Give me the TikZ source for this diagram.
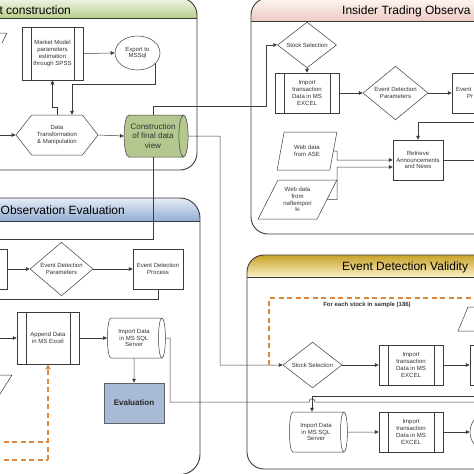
\documentclass[tikz,border=0pt]{standalone}
\usepackage{fontspec}
\setmainfont{Liberation Sans}
\usetikzlibrary{shapes.geometric,shapes.symbols,arrows.meta,calc}
\definecolor{lc}{HTML}{3C3C3C}
\definecolor{tc}{HTML}{333333}
\definecolor{orng}{HTML}{D98A3D}
\definecolor{gfill}{HTML}{B3C78E}
\definecolor{efill}{HTML}{A9BBD4}
\definecolor{pbord}{HTML}{3A3A3A}
\definecolor{hAt}{HTML}{F2F6E8}
\definecolor{hAb}{HTML}{B8CE8C}
\definecolor{hBt}{HTML}{FDF6F4}
\definecolor{hBb}{HTML}{EDCBC2}
\definecolor{hCt}{HTML}{E6ECF5}
\definecolor{hCb}{HTML}{93AED4}
\definecolor{hDt}{HTML}{C8A22A}
\definecolor{hDb}{HTML}{FBF0C4}
\tikzset{
 base/.style={draw=lc, fill=white, text=tc, align=center, inner sep=1pt, font=\fontsize{6}{6.8}\selectfont, line width=0.5pt},
 proc/.style={base, rectangle},
 subp/.style={base, rectangle, path picture={
   \draw[lc, line width=0.5pt] ([xshift=9pt]path picture bounding box.north west) -- ([xshift=9pt]path picture bounding box.south west);
   \draw[lc, line width=0.5pt] ([xshift=-9pt]path picture bounding box.north east) -- ([xshift=-9pt]path picture bounding box.south east);}},
 dec/.style={base, diamond, inner sep=0pt},
 cyl/.style={base, cylinder, shape aspect=0.35, inner xsep=0pt},
 hexa/.style={base, signal, signal to=west and east, signal pointer angle=104},
 arr/.style={draw=lc, line width=0.5pt, -{Triangle[length=4pt,width=3.6pt]}},
 conn/.style={draw=lc, line width=0.5pt},
 dsh/.style={draw=orng, line width=1.1pt, dash pattern=on 5pt off 3.5pt},
 hdr/.style={font=\fontsize{12}{14}\selectfont, text=black, inner sep=0pt},
 border/.style={draw=pbord, line width=0.9pt},
}
\begin{document}
\begin{tikzpicture}[x=1pt,y=-1pt]
\useasboundingbox (0,0) rectangle (474,474);
\clip (0,0) rectangle (474,474);
\fill[white] (0,0) rectangle (474,474);

% ---------- panel 1 ----------
\begin{scope}
\clip[rounded corners=17pt] (-20,-2) -- (197,-2) -- (197,170) -- (-20,170) -- cycle;
\shade[top color=hAt, bottom color=hAb] (-20,-2) rectangle (197,18);
\end{scope}
\draw[border, rounded corners=17pt] (-20,-2) -- (197,-2) -- (197,170) -- (-20,170);
\draw[border] (-20,18) -- (197,18);
\node[hdr, anchor=west] (h1) at (-0.7,10) {t construction};

% ---------- panel 2 ----------
\begin{scope}
\clip[rounded corners=17pt] (251,-2) -- (490,-2) -- (490,234) -- (251,234) -- cycle;
\shade[top color=hBt, bottom color=hBb] (251,-2) rectangle (490,21);
\end{scope}
\draw[border, rounded corners=17pt] (490,-2) -- (251,-2) -- (251,234) -- (490,234);
\draw[border] (251,21) -- (490,21);
\node[hdr, anchor=west] (h2) at (342,11) {Insider Trading Observa};

% ---------- panel 3 ----------
\begin{scope}
\clip[rounded corners=20pt] (-20,198) -- (200,198) -- (200,474.5) -- (-20,474.5) -- cycle;
\shade[top color=hCt, bottom color=hCb] (-20,198) rectangle (200,221);
\end{scope}
\draw[border, rounded corners=20pt] (-20,198) -- (200,198) -- (200,474.5) -- (-20,474.5);
\draw[border] (-20,221) -- (200,221);
\node[hdr, anchor=east] (h3) at (125,210) {Observation Evaluation};

% ---------- panel 4 ----------
\begin{scope}
\clip[rounded corners=17pt] (247,255) -- (490,255) -- (490,469) -- (247,469) -- cycle;
\shade[top color=hDt, bottom color=hDb] (247,255) rectangle (490,277);
\end{scope}
\draw[border, rounded corners=17pt] (490,255) -- (247,255) -- (247,469) -- (490,469);
\draw[border] (247,277) -- (490,277);
\node[hdr, anchor=west] (h4) at (342,267) {Event Detection Validity};

% ---------- panel 1 nodes ----------
\draw[conn] (-10,33) -- (7,33) -- (2,43);
\node[subp, minimum width=61, minimum height=53] (mm) at (52.5,53.5) {Market Model\\parameters\\estimation\\through SPSS};
\node[base, ellipse, minimum width=45, minimum height=34] (exp) at (137.5,53) {Export to\\MSSql};
\node[hexa, minimum width=82, minimum height=40] (dt) at (57,135) {Data\\Transformation\\\& Manipulation};
\node[cyl, fill=gfill, minimum height=64, minimum width=42, font=\fontsize{8}{9.2}\selectfont] (cfd) at (153,136) {Construction\\of final data\\view};
\coordinate (in1) at (-5,135);

% ---------- panel 2 nodes ----------
\node[dec, minimum width=59, minimum height=30] (ss1) at (307,45) {Stock Selection};
\node[subp, minimum width=64, minimum height=40] (it1) at (307,93) {Import\\transaction\\Data in MS\\EXCEL};
\node[dec, minimum width=65, minimum height=40] (edp1) at (395.5,93) {Event Detection\\Parameters};
\node[proc, minimum width=52, minimum height=40, text width=44, align=left, inner sep=0pt] (edpr1) at (478,93) {Event\\\hspace*{11pt}Pr};
\node[proc, minimum width=50, minimum height=40] (ran) at (418,160) {Retrieve\\Announcements\\and News};
\node[base, trapezium, trapezium left angle=72, trapezium right angle=108, trapezium stretches=true, minimum width=60, minimum height=38] (wa) at (307,151) {Web data\\from ASE};
\node[base, trapezium, trapezium left angle=60, trapezium right angle=120, trapezium stretches=true, minimum width=79, minimum height=39] (wn) at (297.5,199.5) {Web data\\from\\naftempori\\ki};
\coordinate (r1) at (480,122);
\coordinate (r2) at (480,160);

% ---------- panel 3 nodes ----------
\node[proc, minimum width=50, minimum height=40] (lb) at (-18,269) {};
\node[dec, minimum width=63, minimum height=40] (edp2) at (61.5,269) {Event Detection\\Parameters};
\node[proc, minimum width=50, minimum height=40] (edpr2) at (158,269) {Event Detection\\Process};
\node[subp, minimum width=62, minimum height=52] (ap) at (48,338) {Append Data\\in MS Excel};
\node[cyl, minimum height=58, minimum width=40] (imp2) at (134,338) {Import Data\\in MS SQL\\Server};
\node[proc, fill=efill, draw=lc!70!efill, minimum width=60, minimum height=40, font=\bfseries\fontsize{8}{9}\selectfont, text=black!85] (ev) at (134,403) {Evaluation};
\draw[conn] (-20,375) -- (12,375) -- (0,394) -- (-30,394);
\coordinate (o1) at (-5,239);
\coordinate (o2) at (-5,299);
\coordinate (in2) at (-5,338);
\coordinate (d1) at (48,460);
\coordinate (d2) at (-5,460);
\coordinate (d3) at (-5,442);
\coordinate (d4) at (48,442);

% ---------- panel 4 nodes ----------
\node[font=\bfseries\fontsize{6}{7}\selectfont, text=tc, inner sep=0pt] (fe) at (367,305) {For each stock in sample (186)};
\draw[conn] (480,307) -- (468,307) -- (458,331) -- (480,331);
\node[dec, minimum width=59, minimum height=40] (ss2) at (312.5,365) {Stock Selection};
\node[subp, minimum width=64, minimum height=40] (it2) at (411,365) {Import\\transaction\\Data in MS\\EXCEL};
\node[proc, minimum width=40, minimum height=40] (rb) at (490,365) {};
\node[cyl, minimum height=58, minimum width=40] (imp3) at (316,432) {Import Data\\in MS SQL\\Server};
\node[subp, minimum width=64, minimum height=40] (it3) at (411,432) {Import\\transaction\\Data in MS\\EXCEL};
\node[base, ellipse, minimum width=40, minimum height=40] (re) at (490,432) {};
\coordinate (r3) at (480,402);
\coordinate (r4) at (480,396);
\coordinate (k1) at (269,365);
\coordinate (k2) at (480,298);

% ---------- connectors ----------
\draw[arr] (mm.east) -- (exp.west);
\draw[arr] (exp.330) -- ++(0,20.5) -| ([xshift=15pt]dt.north);
\draw[arr] (dt.north) -- ++(0,-8) -| (mm.south);
\draw[arr] (in1) -- (dt.west);
\draw[arr] (dt.east) -- (cfd.west);
\draw[arr] (cfd.north) |- (266,106) |- (ss1.west);
\draw[arr] (cfd.east) -- (220,136) |- (ss2.west);
\draw[conn] (cfd.south) |- (o1);

\draw[arr] (ss1.south) -- (it1.north);
\draw[arr] (it1.east) -- (edp1.west);
\draw[arr] (edp1.east) -- (edpr1.west);
\draw[arr] (r1) -| (ran.north);
\draw[conn] (ran.east) -- (r2);
\draw[arr] (wa.east) -- (337,151) |- (ran.west);
\draw[arr] (wn.east) -- (337,199.5) |- ($(ran.west)+(0,7)$);

\draw[arr] (lb.east) -- (edp2.west);
\draw[arr] (edp2.east) -- (edpr2.west);
\draw[conn] (edpr2.south) |- (o2);
\draw[arr] (in2) -- (ap.west);
\draw[arr] (ap.east) -- (imp2.west);
\draw[arr] (imp2.south) -- (ev.north);
\draw[conn] (imp2.east) -| (170,402) -- (309,402) .. controls (309,397.5) and (315,397.5) .. (315,402) -- (r3);
\draw[dsh, -{Triangle[length=5pt,width=5pt]}] (d1) -- (ap.south);
\draw[dsh] (d2) -- (d1);
\draw[dsh] (d3) -- (d4);

\draw[dsh] (k1) |- (k2);
\draw[arr] (ss2.east) -- (it2.west);
\draw[arr] (it2.east) -- (rb.west);
\draw[arr] (r4) -| ([xshift=-4pt]imp3.north);
\draw[arr] (imp3.east) -- (it3.west);
\draw[arr] (it3.east) -- (re.west);
\end{tikzpicture}
\end{document}
